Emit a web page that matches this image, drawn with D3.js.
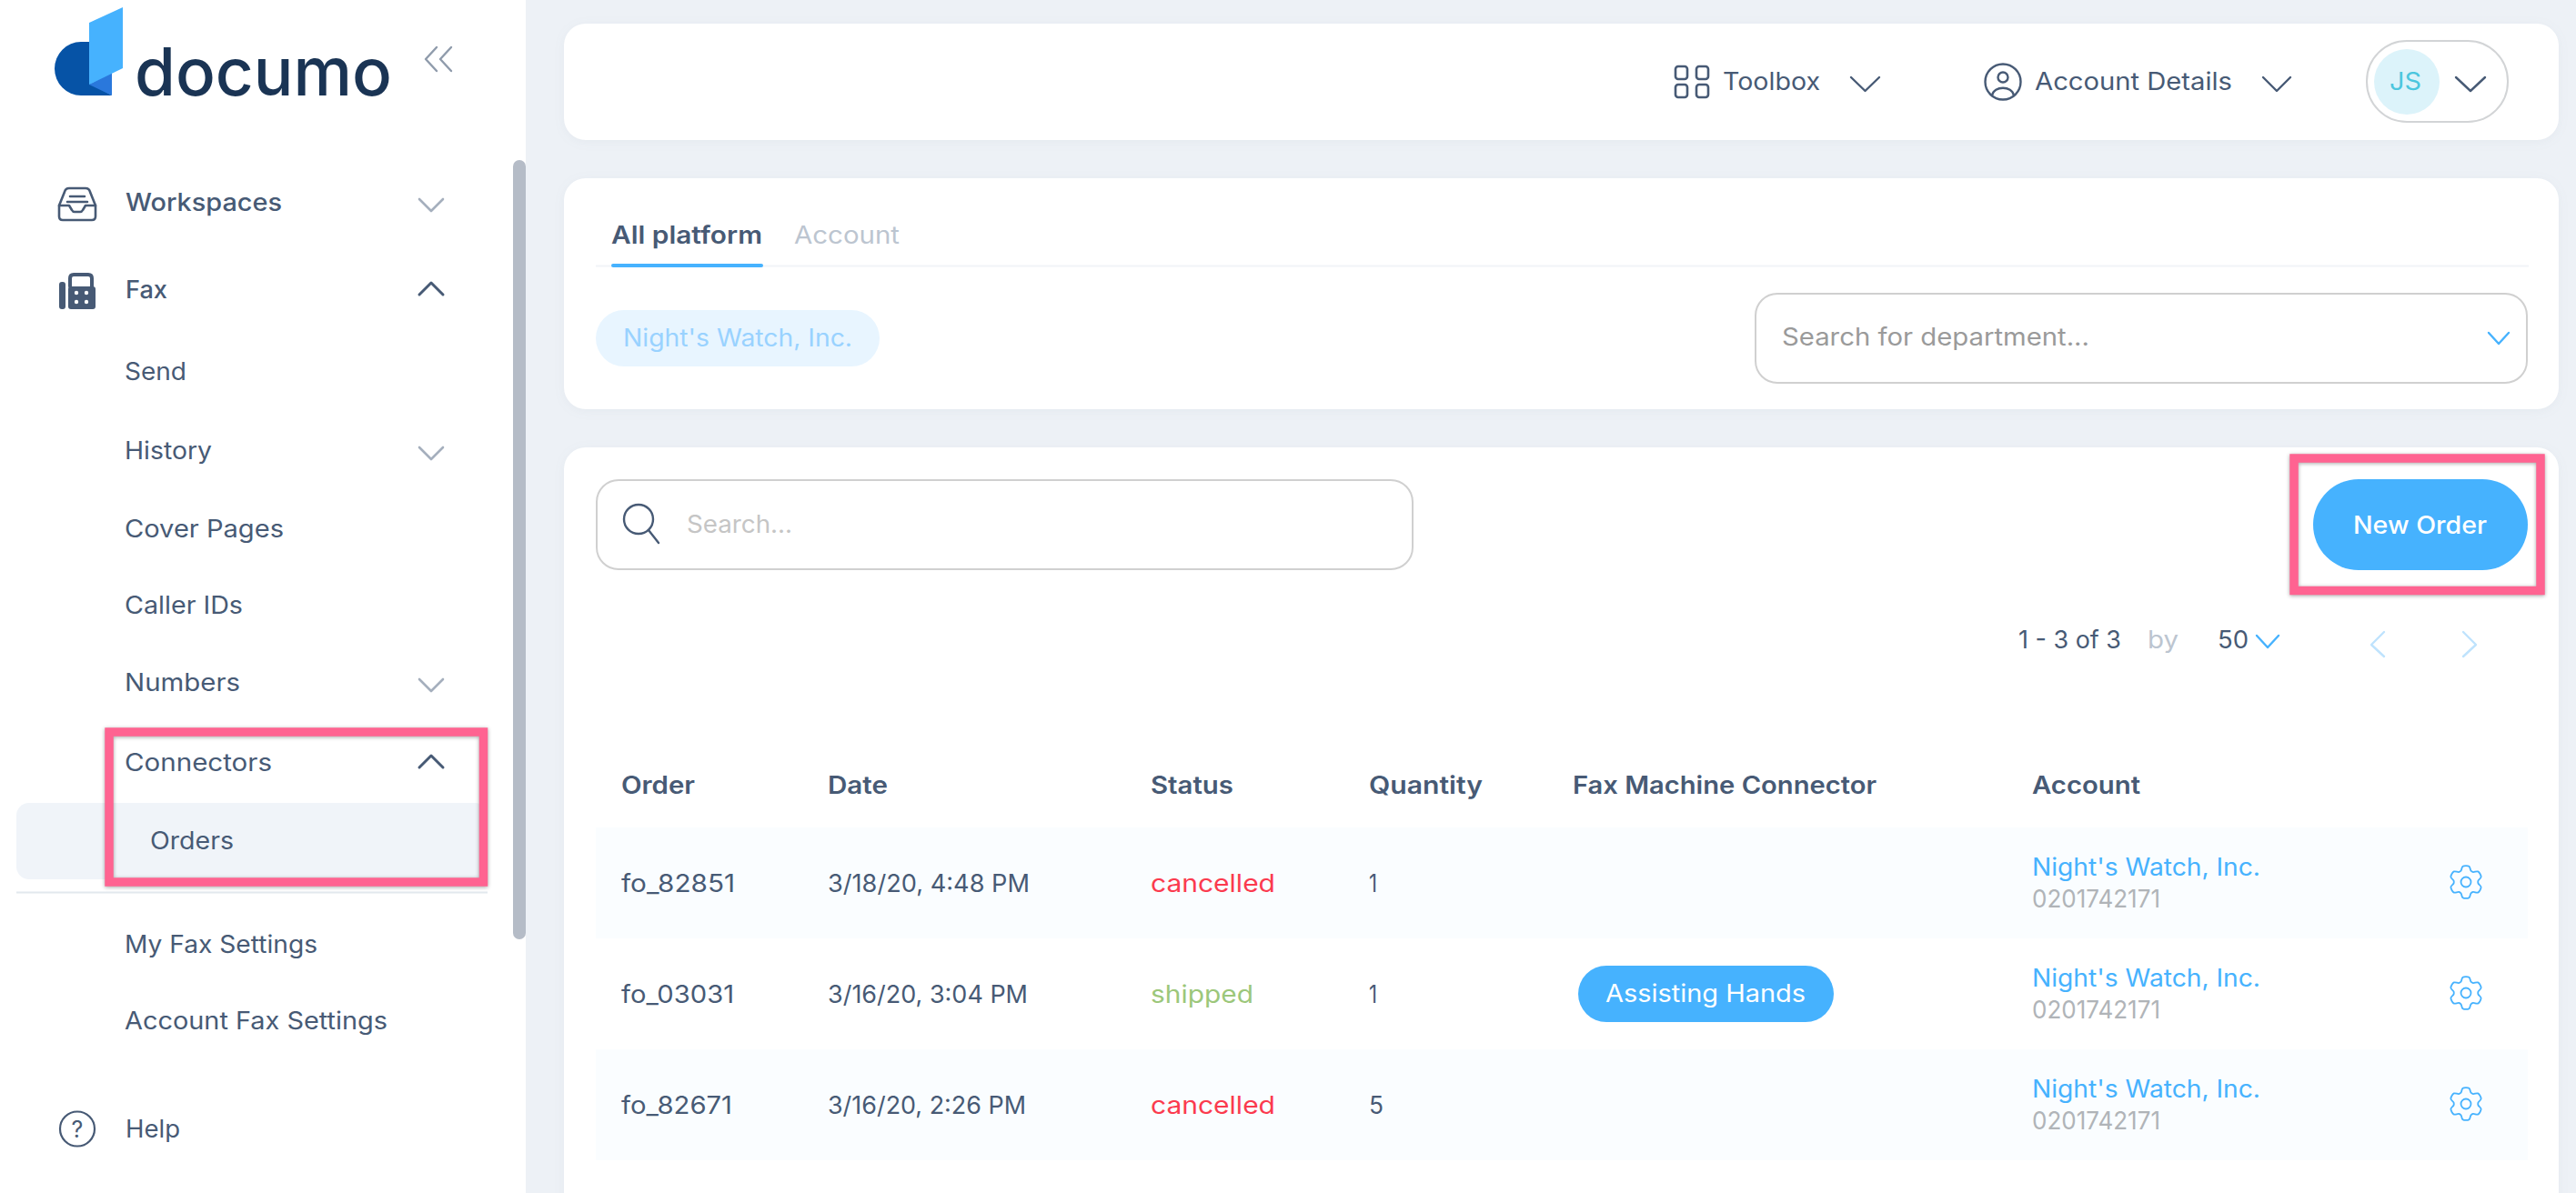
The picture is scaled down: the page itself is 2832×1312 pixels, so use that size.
<!DOCTYPE html>
<html lang="en">
<head>
<meta charset="UTF-8">
<title>documo - Fax Orders</title>
<script src="https://d3js.org/d3.v7.min.js"></script>
<style>
  body { margin: 0; background: #edf1f6; font-family: 'Inter', sans-serif; }
  svg { display: block; }
  .card { filter: drop-shadow(0 2px 6px rgba(70, 90, 120, 0.05)); }
  .callout { filter: drop-shadow(0 1px 2px rgba(0, 0, 0, 0.35)); }
</style>
</head>
<body>
<div id="page"></div>
<script>
// table contents
const columns = ['Order', 'Date', 'Status', 'Quantity', 'Fax Machine Connector', 'Account'];
const orders = ['fo_82851', 'fo_03031', 'fo_82671'];
const dates = ['3/18/20, 4:48 PM', '3/16/20, 3:04 PM', '3/16/20, 2:26 PM'];
const statuses = ['cancelled', 'shipped', 'cancelled'];
const quantities = [1, 1, 5];
const connectors = ['', 'Assisting Hands', ''];
const accounts = ["Night's Watch, Inc.", "Night's Watch, Inc.", "Night's Watch, Inc."];
const accountIds = ['0201742171', '0201742171', '0201742171'];

// sidebar contents
const navLabels = ['Workspaces', 'Fax', 'Send', 'History', 'Cover Pages', 'Caller IDs', 'Numbers',
  'Connectors', 'Orders', 'My Fax Settings', 'Account Fax Settings', 'Help'];
const navOpen = ['Fax', 'Connectors'];
const navClosed = ['Workspaces', 'History', 'Numbers'];
const navStrong = ['Workspaces', 'Fax'];

// layout
const navBase = [232, 328, 418, 505, 591, 675, 760, 848, 934, 1048, 1132, 1251];
const navLeft = [138, 138, 137, 137, 137, 137, 137, 137, 165, 137, 137, 138];
const navWidth = [172, 46, 68, 96, 175, 130, 127, 162, 92, 212, 289, 60];
const colLeft = [683, 910, 1265, 1505, 1729, 2234];
const headWidth = [81, 66, 91, 125, 334, 119];
const orderWidth = [125, 124, 122];
const dateWidth = [222, 220, 218];
const statusWidth = [137, 113, 137];
const qtyWidth = [9, 9, 16];

const dark = '#475a75', blue = '#46b2fe', pale = '#bcc5d0', pink = '#ff6391';
const statusColor = d3.scaleOrdinal(['cancelled', 'shipped'], ['#fb3a4e', '#9cc77a']);

const svg = d3.select('#page').append('svg')
  .attr('width', 2832).attr('height', 1312).attr('viewBox', '0 0 2832 1312');

// text squeezed to the width it has in the picture (Poppins is not installed)
function label(parent, str, x, base, w, size, color, weight) {
  return parent.append('text')
    .attr('x', x).attr('y', base)
    .attr('textLength', w).attr('lengthAdjust', 'spacingAndGlyphs')
    .attr('font-size', size).attr('font-weight', weight || 400)
    .attr('fill', color)
    .text(str);
}

function stroked(parent, d, color, width) {
  return parent.append('path').attr('d', d)
    .attr('fill', 'none').attr('stroke', color)
    .attr('stroke-width', width).attr('stroke-linecap', 'round').attr('stroke-linejoin', 'round');
}

function chevron(parent, x0, x1, y0, y1, color, width) {
  const mid = (x0 + x1) / 2;
  stroked(parent, `M${x0},${y0}L${mid},${y1}L${x1},${y0}`, color, width);
}

function box(parent, x0, y0, x1, y1, r, fill) {
  return parent.append('rect')
    .attr('x', x0).attr('y', y0).attr('width', x1 - x0).attr('height', y1 - y0)
    .attr('rx', r).attr('fill', fill);
}

// ---- sidebar ----
const side = svg.append('g');
box(side, 0, 0, 578, 1312, 0, '#fff');
box(side, 564, 176, 578, 1033, 7, '#b5bcc7');

// logo
side.append('path').attr('fill', '#0653a6')
  .attr('d', 'M98,46H89A29,29.5 0 0 0 60,75.5A29,29.5 0 0 0 89,105H123L98,90Z');
side.append('path').attr('fill', '#2a78dc').attr('d', 'M98,93L123,78V105Z');
side.append('path').attr('fill', blue).attr('d', 'M98,25L135,8V75L98,93Z');
label(side, 'documo', 148, 105, 283, 73, '#1a3454', 500);
stroked(side, 'M480,52L468,65L480,78', '#8f9bab', 2.4);
stroked(side, 'M496,52L484,65L496,78', '#8f9bab', 2.4);

// selected row and divider
box(side, 18, 883, 536, 967, 14, '#f0f4f9');
box(side, 18, 980.5, 536, 982.5, 0, '#e2e8ee');

const navY = d3.scaleOrdinal(navLabels, navBase);
const navX = d3.scaleOrdinal(navLabels, navLeft);
const navW = d3.scaleOrdinal(navLabels, navWidth);

navLabels.forEach(d => {
  label(side, d, navX(d), navY(d), navW(d), 26.5, dark, navStrong.includes(d) ? 500 : 400);
});
navClosed.forEach(d => chevron(side, 461, 487, navY(d) - 13, navY(d), '#a5afbd', 2.6));
navOpen.forEach(d => chevron(side, 461, 487, navY(d) - 4, navY(d) - 17, dark, 3));

// inbox icon
stroked(side, 'M65,226L71,211Q72,207 76,207H94Q98,207 99,211L105,226V238Q105,242 101,242H69Q65,242 65,238Z', dark, 2.6);
stroked(side, 'M65,226H76L79,231Q80,233 82,233H88Q90,233 91,231L94,226H105', dark, 2.6);
stroked(side, 'M77,216H93M74,222H96', dark, 2.6);

// fax icon
box(side, 65, 310, 72, 340, 3, dark);
box(side, 75, 315, 105, 340, 3, dark);
stroked(side, 'M77,315V306Q77,302 81,302H97Q101,302 101,306V315', dark, 4);
side.selectAll('.faxkey').data([[84, 322], [95, 322], [84, 332], [95, 332]]).join('circle')
  .attr('class', 'faxkey').attr('cx', d => d[0]).attr('cy', d => d[1]).attr('r', 2.2).attr('fill', '#fff');

// help icon
side.append('circle').attr('cx', 85).attr('cy', 1241.5).attr('r', 19)
  .attr('fill', 'none').attr('stroke', dark).attr('stroke-width', 2.2);
side.append('text').attr('x', 85).attr('y', 1250.5).attr('text-anchor', 'middle')
  .attr('font-size', 25).attr('fill', dark).text('?');

// ---- cards ----
const cards = svg.append('g').attr('class', 'card');
box(cards, 620, 26, 2813, 154, 24, '#fff');
box(cards, 620, 196, 2813, 450, 24, '#fff');
box(cards, 620, 492, 2813, 1340, 24, '#fff');

// top bar
const topBar = svg.append('g');
[[1842, 73], [1865, 73], [1842, 93], [1865, 93]].forEach(p => {
  box(topBar, p[0], p[1], p[0] + 13, p[1] + 14, 3, 'none').attr('stroke', dark).attr('stroke-width', 2.6);
});
label(topBar, 'Toolbox', 1894, 99, 107, 26.5, dark);
chevron(topBar, 2035, 2066, 85, 100, dark, 2.4);

topBar.append('circle').attr('cx', 2202).attr('cy', 90).attr('r', 19.5)
  .attr('fill', 'none').attr('stroke', dark).attr('stroke-width', 2.4);
topBar.append('circle').attr('cx', 2202).attr('cy', 85).attr('r', 5.5)
  .attr('fill', 'none').attr('stroke', dark).attr('stroke-width', 2.4);
stroked(topBar, 'M2190,105C2192,94 2212,94 2214,105', dark, 2.4);
label(topBar, 'Account Details', 2237, 99, 217, 26.5, dark);
chevron(topBar, 2488, 2518, 85, 100, dark, 2.4);

box(topBar, 2602, 45, 2757, 134, 44, '#fff').attr('stroke', '#d2d4d6').attr('stroke-width', 2);
topBar.append('circle').attr('cx', 2646).attr('cy', 90).attr('r', 36).attr('fill', '#dcf3fa');
label(topBar, 'JS', 2627, 99, 35, 26.5, '#4cc6de');
chevron(topBar, 2700, 2732, 85, 100, dark, 2.4);

// tabs and department filter
const filterBar = svg.append('g');
box(filterBar, 655, 291.5, 2780, 293.5, 0, '#f1f4f8');
box(filterBar, 672, 290, 839, 294, 2, blue);
label(filterBar, 'All platform', 672, 268, 166, 26.5, dark, 600);
label(filterBar, 'Account', 873, 268, 116, 26.5, pale);
box(filterBar, 655, 341, 967, 403, 31, '#e8f5ff');
label(filterBar, "Night's Watch, Inc.", 685, 381, 252, 26.5, '#99d2ff');
box(filterBar, 1930, 323, 2778, 421, 24, '#fff').attr('stroke', '#d0d0d0').attr('stroke-width', 2);
label(filterBar, 'Search for department...', 1959, 380, 338, 26.5, '#9a9a9a');
chevron(filterBar, 2736, 2758, 366, 378, blue, 2.4);

// search row
const tools = svg.append('g');
box(tools, 656, 528, 1553, 626, 24, '#fff').attr('stroke', '#d0d0d0').attr('stroke-width', 2);
tools.append('circle').attr('cx', 702).attr('cy', 571).attr('r', 16)
  .attr('fill', 'none').attr('stroke', dark).attr('stroke-width', 2.4);
stroked(tools, 'M713,583L724,597', dark, 2.4);
label(tools, 'Search...', 755, 586, 116, 26.5, '#c5c5c5');

box(tools, 2543, 527, 2779, 627, 50, blue);
label(tools, 'New Order', 2587, 587, 147, 26.5, '#fff', 500);

// paging
label(tools, '1 - 3 of 3', 2219, 713, 113, 26.5, dark);
label(tools, 'by', 2361, 713, 34, 26.5, pale);
label(tools, '50', 2438, 713, 34, 26.5, dark);
chevron(tools, 2481, 2505, 699, 712, blue, 2.4);
stroked(tools, 'M2621,695L2607,709L2621,722', '#bfe3fd', 2.4);
stroked(tools, 'M2708,695L2722,709L2708,722', '#bfe3fd', 2.4);

// ---- table ----
const table = svg.append('g');
const x = d3.scaleOrdinal(columns, colLeft);
const y = d3.scaleBand().domain(d3.range(orders.length)).range([910, 1276]);
const rowMid = i => y(i) + y.bandwidth() / 2;

columns.forEach((c, i) => label(table, c, x(c), 873, headWidth[i], 26.5, dark, 600));

table.selectAll('.stripe').data(orders.map((d, i) => i).filter(i => i % 2 === 0)).join('rect')
  .attr('class', 'stripe')
  .attr('x', 655).attr('width', 2779 - 655)
  .attr('y', i => y(i)).attr('height', y.bandwidth())
  .attr('fill', '#fafdff');

// six lobed gear outline
const gearPoints = [];
d3.range(6).forEach(i => {
  const a = i * Math.PI / 3;
  gearPoints.push([a - 0.2, 17.5], [a + 0.2, 17.5], [a + 0.42, 13.5], [a + Math.PI / 3 - 0.42, 13.5]);
});
const gearOutline = d3.lineRadial().angle(d => d[0]).radius(d => d[1]).curve(d3.curveCatmullRomClosed.alpha(0.5))(gearPoints);

orders.forEach((d, i) => {
  const cy = rowMid(i);
  const base = cy + 10;
  label(table, d, x('Order'), base, orderWidth[i], 26.5, dark);
  label(table, dates[i], x('Date'), base, dateWidth[i], 26.5, dark);
  label(table, statuses[i], x('Status'), base, statusWidth[i], 26.5, statusColor(statuses[i]));
  label(table, quantities[i], x('Quantity'), base, qtyWidth[i], 26.5, dark);
  if (connectors[i]) {
    box(table, 1735, cy - 31, 2016, cy + 31, 31, blue);
    label(table, connectors[i], 1765, cy + 9, 220, 26.5, '#fff');
  }
  label(table, accounts[i], x('Account'), cy - 8, 251, 26.5, blue);
  label(table, accountIds[i], x('Account'), cy + 27, 141, 26.5, '#b0b4b8');
  const gear = table.append('g').attr('transform', `translate(2711,${cy - 1})`);
  gear.append('path').attr('d', gearOutline).attr('fill', 'none').attr('stroke', blue).attr('stroke-width', 1.8);
  gear.append('circle').attr('r', 5.5).attr('fill', 'none').attr('stroke', blue).attr('stroke-width', 1.8);
});

// ---- pink callouts ----
const calls = svg.append('g').attr('class', 'callout');
[[120, 805, 531.5, 970], [2522, 504, 2793, 649.5]].forEach(r => {
  box(calls, r[0], r[1], r[2], r[3], 0, 'none').attr('stroke', pink).attr('stroke-width', 9.5);
});
</script>
</body>
</html>
